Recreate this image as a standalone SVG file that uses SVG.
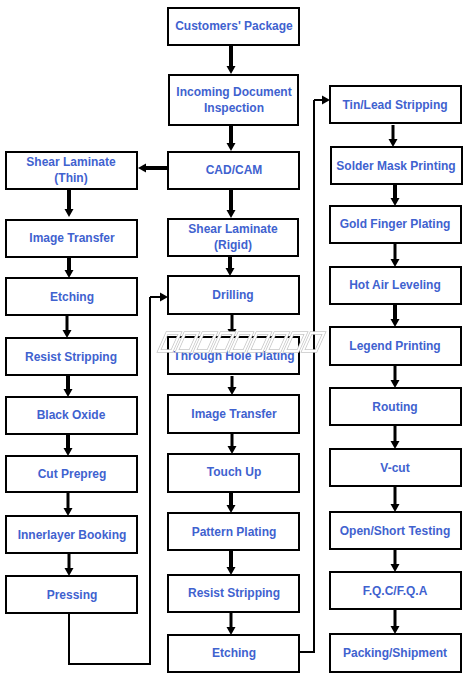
<svg xmlns="http://www.w3.org/2000/svg" width="469" height="690" viewBox="0 0 469 690">
<defs>
<marker id="a" markerUnits="userSpaceOnUse" markerWidth="9" markerHeight="10" refX="2" refY="5" orient="auto"><path d="M0 0.5L8 5L0 9.5z" fill="#000"/></marker>
<g id="f"><rect x="0" y="0" width="13" height="18" fill="none" stroke="#c6c6c6" stroke-width="3.6"/><rect x="0" y="0" width="13" height="18" fill="none" stroke="#fff" stroke-width="2"/></g>
</defs>
<style>
.b{fill:#fff;stroke:#000;stroke-width:2}
.t{font:bold 12px "Liberation Sans",Arial,sans-serif;fill:#3f62cf;text-anchor:middle}
.c{fill:none;stroke:#000;stroke-linejoin:miter}
</style>
<rect width="469" height="690" fill="#fff"/>
<g id="n1"><rect class="b" x="168" y="8" width="131" height="37"/><text class="t" x="234" y="30">Customers' Package</text></g>
<g id="n2"><rect class="b" x="169" y="75" width="129" height="50"/><text class="t" x="234" y="96">Incoming Document</text><text class="t" x="234" y="112">Inspection</text></g>
<g id="n3"><rect class="b" x="168" y="152" width="131" height="37"/><text class="t" x="234" y="174">CAD/CAM</text></g>
<g id="n4"><rect class="b" x="168" y="219" width="130" height="37"/><text class="t" x="233" y="233">Shear Laminate</text><text class="t" x="233" y="249">(Rigid)</text></g>
<g id="n5"><rect class="b" x="168" y="276" width="131" height="38"/><text class="t" x="233" y="299">Drilling</text></g>
<g id="n6"><rect class="b" x="168" y="337" width="131" height="37"/><text class="t" x="234" y="360">Through Hole Plating</text></g>
<g id="n7"><rect class="b" x="168" y="395" width="131" height="38"/><text class="t" x="234" y="418">Image Transfer</text></g>
<g id="n8"><rect class="b" x="168" y="454" width="131" height="38"/><text class="t" x="234" y="476">Touch Up</text></g>
<g id="n9"><rect class="b" x="168" y="513" width="131" height="37"/><text class="t" x="234" y="536">Pattern Plating</text></g>
<g id="n10"><rect class="b" x="168" y="575" width="131" height="37"/><text class="t" x="234" y="597">Resist Stripping</text></g>
<g id="n11"><rect class="b" x="168" y="635" width="131" height="37"/><text class="t" x="234" y="657">Etching</text></g>
<g id="l1"><rect class="b" x="6" y="152" width="131" height="37"/><text class="t" x="71" y="166">Shear Laminate</text><text class="t" x="71" y="182">(Thin)</text></g>
<g id="l2"><rect class="b" x="6" y="220" width="131" height="37"/><text class="t" x="72" y="242">Image Transfer</text></g>
<g id="l3"><rect class="b" x="6" y="278" width="131" height="37"/><text class="t" x="72" y="301">Etching</text></g>
<g id="l4"><rect class="b" x="6" y="338" width="131" height="37"/><text class="t" x="71" y="361">Resist Stripping</text></g>
<g id="l5"><rect class="b" x="6" y="397" width="131" height="37"/><text class="t" x="71" y="419">Black Oxide</text></g>
<g id="l6"><rect class="b" x="6" y="456" width="131" height="36"/><text class="t" x="72" y="478">Cut Prepreg</text></g>
<g id="l7"><rect class="b" x="6" y="516" width="131" height="37"/><text class="t" x="72" y="539">Innerlayer Booking</text></g>
<g id="l8"><rect class="b" x="6" y="576" width="131" height="37"/><text class="t" x="72" y="599">Pressing</text></g>
<g id="r1"><rect class="b" x="330" y="86" width="131" height="37"/><text class="t" x="395" y="109">Tin/Lead Stripping</text></g>
<g id="r2"><rect class="b" x="331" y="147" width="131" height="37"/><text class="t" x="396" y="170">Solder Mask Printing</text></g>
<g id="r3"><rect class="b" x="330" y="206" width="131" height="37"/><text class="t" x="395" y="228">Gold Finger Plating</text></g>
<g id="r4"><rect class="b" x="330" y="267" width="131" height="37"/><text class="t" x="395" y="289">Hot Air Leveling</text></g>
<g id="r5"><rect class="b" x="330" y="327" width="131" height="38"/><text class="t" x="395" y="350">Legend Printing</text></g>
<g id="r6"><rect class="b" x="330" y="388" width="131" height="37"/><text class="t" x="395" y="411">Routing</text></g>
<g id="r7"><rect class="b" x="330" y="449" width="131" height="37"/><text class="t" x="395" y="472">V-cut</text></g>
<g id="r8"><rect class="b" x="330" y="512" width="131" height="37"/><text class="t" x="395" y="535">Open/Short Testing</text></g>
<g id="r9"><rect class="b" x="330" y="572" width="131" height="37"/><text class="t" x="395" y="595">F.Q.C/F.Q.A</text></g>
<g id="r10"><rect class="b" x="330" y="634" width="131" height="38"/><text class="t" x="395" y="657">Packing/Shipment</text></g>
<g id="connectors" class="c">
<path stroke-width="4" marker-end="url(#a)" d="M231 45V68"/>
<path stroke-width="4" marker-end="url(#a)" d="M231 125V145"/>
<path stroke-width="4" marker-end="url(#a)" d="M168 168H144"/>
<path stroke-width="4" marker-end="url(#a)" d="M231 189V212"/>
<path stroke-width="4" marker-end="url(#a)" d="M230 256V270"/>
<path stroke-width="3" marker-end="url(#a)" d="M232 314V331"/>
<path stroke-width="3" marker-end="url(#a)" d="M232 376V389"/>
<path stroke-width="3" marker-end="url(#a)" d="M232 433V448"/>
<path stroke-width="4" marker-end="url(#a)" d="M231 492V507"/>
<path stroke-width="4" marker-end="url(#a)" d="M231 550V569"/>
<path stroke-width="3" marker-end="url(#a)" d="M231 612V629"/>
<path stroke-width="4" marker-end="url(#a)" d="M69 189V211"/>
<path stroke-width="4" marker-end="url(#a)" d="M69 257V272"/>
<path stroke-width="3" marker-end="url(#a)" d="M67 315V332"/>
<path stroke-width="4" marker-end="url(#a)" d="M68 375V391"/>
<path stroke-width="4" marker-end="url(#a)" d="M68 434V450"/>
<path stroke-width="3" marker-end="url(#a)" d="M68 492V510"/>
<path stroke-width="3" marker-end="url(#a)" d="M69 553V570"/>
<path stroke-width="2" d="M69 613V664H150V297"/>
<path stroke-width="2" marker-end="url(#a)" d="M150 297H162"/>
<path stroke-width="2" d="M299 652H314V100"/>
<path stroke-width="2" marker-end="url(#a)" d="M314 100H324"/>
<path stroke-width="3" marker-end="url(#a)" d="M393 125V141"/>
<path stroke-width="4" marker-end="url(#a)" d="M395 184V200"/>
<path stroke-width="3" marker-end="url(#a)" d="M395 243V261"/>
<path stroke-width="4" marker-end="url(#a)" d="M395 304V321"/>
<path stroke-width="3" marker-end="url(#a)" d="M395 365V382"/>
<path stroke-width="3" marker-end="url(#a)" d="M395 425V443"/>
<path stroke-width="3" marker-end="url(#a)" d="M395 486V506"/>
<path stroke-width="3" marker-end="url(#a)" d="M395 549V566"/>
<path stroke-width="3" marker-end="url(#a)" d="M395 609V628"/>
</g>
<g id="watermark" transform="translate(160 333) skewX(-24)">
<use href="#f" x="7"/><use href="#f" x="25"/><use href="#f" x="43"/><use href="#f" x="61"/><use href="#f" x="79"/><use href="#f" x="97"/><use href="#f" x="115"/><use href="#f" x="133"/><use href="#f" x="151"/>
</g>
</svg>
